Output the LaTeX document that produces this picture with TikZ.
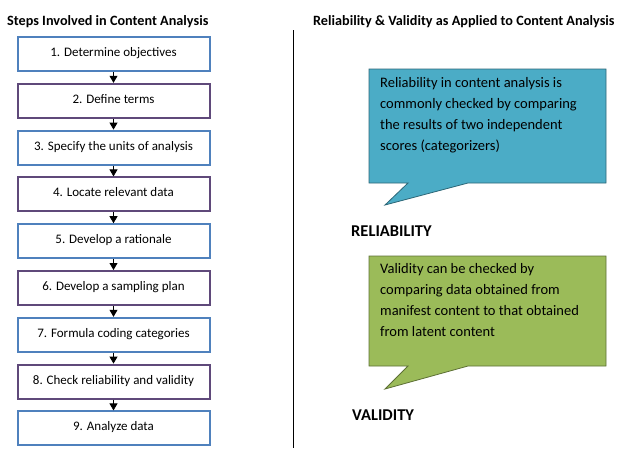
\documentclass[tikz,border=0pt]{standalone}
\usepackage{fontspec}
\setmainfont{Carlito}
\usetikzlibrary{arrows.meta}
\begin{document}
\begin{tikzpicture}[x=1pt,y=-1pt,
  stepb/.style={line width=2pt,fill=white,minimum width=192pt,minimum height=34pt,inner sep=0pt,anchor=north,font=\fontsize{13}{15}\selectfont},
  bstep/.style={stepb,draw=bl},
  pstep/.style={stepb,draw=pu},
  arr/.style={-{Triangle[width=8pt,length=7pt]},line width=0.8pt},
  hdr/.style={font=\bfseries\fontsize{14.2}{17}\selectfont,anchor=base west,inner sep=0pt},
  lbl/.style={font=\bfseries\fontsize{16.5}{18}\selectfont,anchor=base west,inner sep=0pt},
  ctext/.style={font=\fontsize{14.5}{21}\selectfont,align=left,anchor=north west,inner sep=0pt}]
\definecolor{bl}{HTML}{4F81BD}
\definecolor{pu}{HTML}{5F497A}
\definecolor{tl}{HTML}{4BACC6}
\definecolor{gr}{HTML}{9BBB59}
\useasboundingbox (0,0) rectangle (640,463);
\node[hdr] (h1) at (7,25) {Steps Involved in Content Analysis};
\node[hdr] (h2) at (313,25) {Reliability \& Validity as Applied to Content Analysis};
\node[bstep] (s1) at (113.5,36) {\raisebox{4pt}{1. Determine objectives}};
\node[pstep] (s2) at (113.5,82.8) {\raisebox{4pt}{2. Define terms}};
\node[bstep] (s3) at (113.5,129.6) {\raisebox{4pt}{3. Specify the units of analysis}};
\node[pstep] (s4) at (113.5,176.4) {\raisebox{4pt}{4. Locate relevant  data}};
\node[bstep] (s5) at (113.5,223.2) {\raisebox{4pt}{5. Develop a rationale}};
\node[pstep] (s6) at (113.5,270) {\raisebox{4pt}{6. Develop a sampling plan}};
\node[bstep] (s7) at (113.5,316.8) {\raisebox{4pt}{7. Formula coding categories}};
\node[pstep] (s8) at (113.5,363.6) {\raisebox{4pt}{8. Check reliability and validity}};
\node[bstep] (s9) at (113.5,410.4) {\raisebox{4pt}{9. Analyze data}};
\foreach \a/\b in {1/2,2/3,3/4,4/5,5/6,6/7,7/8,8/9}{\draw[arr] (s\a.south) -- (s\b.north);}
\coordinate (la) at (293,30); \coordinate (lb) at (293,448);
\draw[line width=0.8pt] (la) -- (lb);
\draw[draw=tl!60!black,fill=tl,line width=0.8pt] (369,69) -- (606,69) -- (606,183) -- (468,183) -- (385,205) -- (408,183) -- (369,183) -- cycle;
\node[ctext] (c1) at (380,77) {Reliability in content analysis is\\commonly checked by comparing\\the results of two independent\\scores (categorizers)};
\node[lbl] (r) at (351,236) {RELIABILITY};
\draw[draw=gr!60!black,fill=gr,line width=0.8pt] (369,256) -- (606,256) -- (606,366) -- (468,366) -- (385,389) -- (408,366) -- (369,366) -- cycle;
\node[ctext] (c2) at (380,263) {Validity can be checked by\\comparing data obtained from\\manifest content to that obtained\\from latent content};
\node[lbl] (v) at (352,420) {VALIDITY};
\end{tikzpicture}
\end{document}
